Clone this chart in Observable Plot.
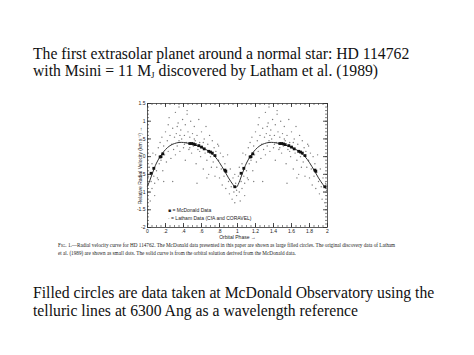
<!DOCTYPE html>
<html>
<head>
<meta charset="utf-8">
<script src="https://cdn.jsdelivr.net/npm/d3@7"></script>
<script src="https://cdn.jsdelivr.net/npm/@observablehq/plot@0.6"></script>
<style>
  html, body { margin: 0; padding: 0; background: #fff; }
  body { width: 474px; height: 355px; position: relative; overflow: hidden; font-family: "Liberation Serif", "Times New Roman", serif; color: #111; }
  .txt { position: absolute; left: 33px; font-size: 15.7px; line-height: 17px; white-space: nowrap; }
  .txt sub { font-size: 9px; vertical-align: -2px; }
  #plot { position: absolute; left: 125px; top: 98px; }
  #legend { position: absolute; left: 168px; top: 206px; font-family: "Liberation Sans", sans-serif; font-size: 5px; line-height: 8px; color: #222; white-space: nowrap; }
  #caption { position: absolute; left: 58px; top: 242px; font-size: 5.2px; line-height: 7.5px; color: #222; white-space: nowrap; }
</style>
</head>
<body>
<div class="txt" style="top:45px">The first extrasolar planet around a normal star: HD 114762<br>with Msini = 11 M<sub>J</sub> discovered by Latham et al. (1989)</div>
<div id="plot"></div>
<div id="legend"><span style="font-weight:bold">&#9632;</span> = McDonald Data<br>&middot; = Latham Data (CfA and CORAVEL)</div>
<div id="caption">F<span style="font-size:4.2px">IG</span>. 1.—Radial velocity curve for HD 114762. The McDonald data presented in this paper are shown as large filled circles. The original discovery data of Latham<br>et al. (1989) are shown as small dots. The solid curve is from the orbital solution derived from the McDonald data.</div>
<div class="txt" style="top:284px; line-height:18px">Filled circles are data taken at McDonald Observatory using the<br>telluric lines at 6300 Ang as a wavelength reference</div>
<script>
// Orbital solution curve (phase 0..1)
const curvePhase = [0, 0.025, 0.05, 0.075, 0.1, 0.15, 0.2, 0.25, 0.3, 0.35, 0.4, 0.45, 0.5, 0.55, 0.6, 0.65, 0.7, 0.75, 0.8, 0.85, 0.9, 0.95, 0.975, 1.0];
const curveRV    = [-0.83, -0.68, -0.5, -0.33, -0.18, 0.04, 0.2, 0.31, 0.37, 0.40, 0.40, 0.38, 0.35, 0.31, 0.26, 0.20, 0.12, 0.0, -0.17, -0.38, -0.6, -0.79, -0.87, -0.83];

// McDonald data (large filled symbols)
const mcdPhase = [0.04, 0.07, 0.14, 0.15, 0.17, 0.47, 0.49, 0.51, 0.53, 0.57, 0.60, 0.63, 0.68, 0.70, 0.72, 0.75, 0.86, 0.87, 0.97];
const mcdRV    = [-0.47, -0.33, -0.01, 0.0, 0.08, 0.37, 0.37, 0.36, 0.34, 0.31, 0.27, 0.22, 0.15, 0.13, 0.10, 0.03, -0.38, -0.41, -0.85];

// Latham et al. data (small dots)
const lathamPhase = [0.01,0.02,0.02,0.03,0.04,0.05,0.05,0.06,0.07,0.08,0.08,0.09,0.10,0.11,0.12,0.13,0.14,0.15,0.16,0.17,0.18,0.19,0.20,0.21,0.22,0.23,0.24,0.25,0.26,0.27,0.28,0.29,0.30,0.31,0.31,0.32,0.33,0.34,0.35,0.35,0.36,0.37,0.38,0.39,0.40,0.41,0.42,0.42,0.43,0.44,0.45,0.46,0.47,0.48,0.49,0.50,0.51,0.52,0.53,0.54,0.55,0.56,0.57,0.58,0.59,0.60,0.61,0.62,0.63,0.64,0.65,0.66,0.67,0.68,0.69,0.70,0.71,0.72,0.73,0.74,0.75,0.76,0.77,0.78,0.79,0.80,0.81,0.82,0.83,0.84,0.85,0.86,0.87,0.88,0.89,0.90,0.91,0.92,0.93,0.94,0.95,0.96,0.97,0.97,0.98,0.99,0.99,0.28,0.12,0.55,0.66,0.44,0.33,0.47,0.52,0.58,0.36,0.23,0.62,0.79,0.18,0.41];
const lathamRV    = [-0.55,-1.0,-0.3,-1.25,-0.7,-0.9,-0.2,0.1,-0.55,-1.1,-0.75,0.05,-0.4,-0.6,0.25,-0.2,0.4,-0.1,0.55,-0.4,0.3,0.05,0.7,-0.15,0.45,0.15,1.1,0.6,-0.05,0.35,0.8,0.2,0.55,1.25,0.05,0.65,0.3,0.95,0.45,1.4,0.15,0.75,0.5,1.05,0.25,0.6,0.9,-0.1,0.4,1.2,0.7,0.2,0.55,1.0,0.1,0.65,0.3,0.85,0.45,-0.2,0.6,0.2,1.05,0.4,0.0,0.7,0.25,-0.35,0.5,0.1,0.85,-0.1,0.35,-0.5,0.6,0.0,-0.3,0.45,-0.15,0.25,-0.55,0.15,-0.3,0.35,-0.1,-0.6,0.1,-0.35,-0.8,0.0,-0.55,-0.2,-0.9,-0.45,0.05,-0.7,-1.05,-0.35,-0.85,-1.2,-0.6,-1.0,-1.3,-0.5,-0.75,-1.1,-0.95,-0.7,-0.65,-0.75,-0.6,1.3,0.85,0.25,0.5,0.15,0.6,0.9,0.4,0.3,-0.7,0.35];

// Axis ticks and labels
const xMajor = [0, 0.2, 0.4, 0.6, 0.8, 1, 1.2, 1.4, 1.6, 1.8, 2];
const xLabels = ["0", ".2", ".4", ".6", ".8", "1", "1.2", "1.4", "1.6", "1.8", "2"];
const yMajor = [-2, -1.5, -1, -0.5, 0, 0.5, 1, 1.5];
const yLabels = ["-2", "-1.5", "-1", "-.5", "0", ".5", "1", "1.5"];
const xMinorStep = 0.05, yMinorStep = 0.1;

// Build tables (two cycles of phase)
const cycles = [0, 1];
const curve = cycles.flatMap(c => curvePhase.map((p, i) => ({phase: p + c, rv: curveRV[i], cycle: c})));
const mcd = cycles.flatMap(c => mcdPhase.map((p, i) => ({phase: p + c, rv: mcdRV[i]})));
const latham = cycles.flatMap(c => lathamPhase.map((p, i) => ({phase: p + c, rv: lathamRV[i]})));
const xMinor = d3.range(0, 2 + 1e-9, xMinorStep);
const yMinor = d3.range(-2, 1.5 + 1e-9, yMinorStep);

const W = 207, H = 148, mL = 22, mR = 5, mT = 5, mB = 19;
const fh = H - mT - mB, fw = W - mL - mR;

const plot = Plot.plot({
  width: W, height: H,
  marginLeft: mL, marginRight: mR, marginTop: mT, marginBottom: mB,
  style: {fontFamily: "Liberation Sans, Arial, sans-serif", fontSize: "5px", color: "#222", background: "transparent"},
  x: {domain: [0, 2], ticks: xMajor, tickFormat: (d, i) => xLabels[i], tickSize: 0, tickPadding: 2,
      label: "Orbital Phase", labelAnchor: "center", labelOffset: 11},
  y: {domain: [-2, 1.5], ticks: yMajor, tickFormat: (d, i) => yLabels[i], tickSize: 0, tickPadding: 2,
      label: "Relative Radial Velocity (km s\u207B\u00B9)", labelAnchor: "center", labelOffset: 9},
  marks: [
    Plot.ruleX(xMinor, {insetTop: fh - 2, stroke: "#333", strokeWidth: 0.6}),
    Plot.ruleX(xMinor, {insetBottom: fh - 2, stroke: "#333", strokeWidth: 0.6}),
    Plot.ruleX(xMajor, {insetTop: fh - 4, stroke: "#222", strokeWidth: 0.8}),
    Plot.ruleX(xMajor, {insetBottom: fh - 4, stroke: "#222", strokeWidth: 0.8}),
    Plot.ruleY(yMinor, {insetLeft: fw - 2, stroke: "#333", strokeWidth: 0.6}),
    Plot.ruleY(yMinor, {insetRight: fw - 2, stroke: "#333", strokeWidth: 0.6}),
    Plot.ruleY(yMajor, {insetLeft: fw - 4, stroke: "#222", strokeWidth: 0.8}),
    Plot.ruleY(yMajor, {insetRight: fw - 4, stroke: "#222", strokeWidth: 0.8}),
    Plot.dot(latham, {x: "phase", y: "rv", r: 0.7, fill: "#7a7a7a", stroke: null}),
    Plot.line(curve, {x: "phase", y: "rv", z: "cycle", curve: "catmull-rom", stroke: "#333", strokeWidth: 1}),
    Plot.dot(mcd, {x: "phase", y: "rv", symbol: "square", r: 1.6, fill: "#111", stroke: null}),
    Plot.frame({stroke: "#333", strokeWidth: 0.8})
  ]
});
document.getElementById("plot").appendChild(plot);
</script>
</body>
</html>
